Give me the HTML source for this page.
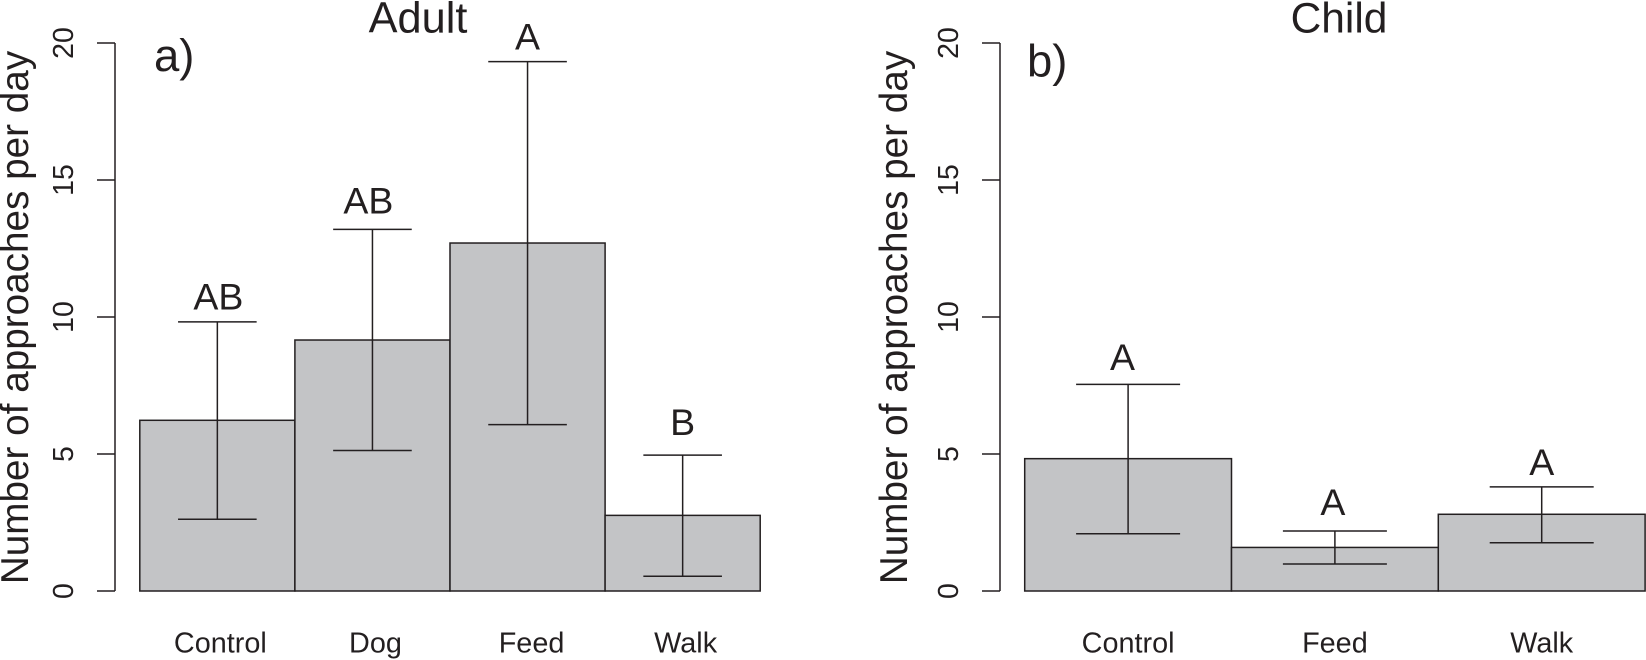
<!DOCTYPE html>
<html>
<head>
<meta charset="utf-8">
<title>Number of approaches per day: Adult and Child</title>
<style>
  html, body { margin: 0; padding: 0; background: #fff; width: 1646px; height: 660px; overflow: hidden; }
  svg { display: block; }
  text { font-family: "Liberation Sans", Arial, sans-serif; fill: #231f20; }
</style>
</head>
<body>
<svg id="chart" xmlns="http://www.w3.org/2000/svg" width="1646" height="660" viewBox="0 0 1646 660">
  <text x="418" y="32.3" font-size="43.3" text-anchor="middle">Adult</text>
  <text x="1339" y="32.3" font-size="42.5" text-anchor="middle">Child</text>
  <text x="154" y="71" font-size="45.5">a)</text>
  <text x="1027" y="76.5" font-size="45.5">b)</text>
</svg>
<script>
const yTicks = [0, 5, 10, 15, 20];

const adultCategories = ["Control", "Dog", "Feed", "Walk"];
const adultMeans = [6.23, 9.16, 12.7, 2.76];
const adultUpper = [9.82, 13.2, 19.32, 4.96];
const adultLower = [2.62, 5.13, 6.07, 0.54];
const adultLetters = ["AB", "AB", "A", "B"];
const adultLetterHeights = [10.28, 13.77, 19.77, 5.69];

const childCategories = ["Control", "Feed", "Walk"];
const childMeans = [4.83, 1.59, 2.8];
const childUpper = [7.54, 2.19, 3.8];
const childLower = [2.09, 0.985, 1.76];
const childLetters = ["A", "A", "A"];
const childLetterHeights = [8.07, 2.77, 4.24];

/* Layout only: no data values in here */
const INK = "#231f20";
const FILL = "#c3c4c6";
const Y_BASE = 591;
const Y_UNIT = 27.4;
const yScale = function (v) { return Y_BASE - v * Y_UNIT; };

const svg = document.getElementById("chart");
const NS = "http://www.w3.org/2000/svg";

function mk(tag, attrs, parent) {
  const el = document.createElementNS(NS, tag);
  Object.keys(attrs).forEach(function (k) { el.setAttribute(k, attrs[k]); });
  (parent || svg).appendChild(el);
  return el;
}

function line(x1, y1, x2, y2, parent) {
  return mk("line", { x1: x1, y1: y1, x2: x2, y2: y2, stroke: INK, "stroke-width": 1.5 }, parent);
}

function drawPanel(p) {
  const g = mk("g", {});
  
  

  const xLeft = function (i) { return p.barStart + i * p.barWidth; };
  const xMid = function (i) { return xLeft(i) + p.barWidth / 2; };

  /* y axis */
  const axis = line(p.axisX, yScale(yTicks[0]), p.axisX, yScale(yTicks[yTicks.length - 1]), g);
  
  

  yTicks.forEach(function (t) {
    const tick = line(p.axisX - 18, yScale(t), p.axisX, yScale(t), g);
    
    

    const lx = p.axisX - 42;
    const label = mk("text", {
      x: lx, y: yScale(t), "font-size": 28.5, "text-anchor": "middle",
      transform: "rotate(-90 " + lx + " " + yScale(t) + ")"
    }, g);
    label.textContent = String(t);
    
    
  });

  /* y axis title */
  const tx = p.axisX - p.titleGap;
  const title = mk("text", {
    x: tx, y: 317.5, "font-size": 38.7, "text-anchor": "middle",
    transform: "rotate(-90 " + tx + " 317.5)"
  }, g);
  title.textContent = "Number of approaches per day";
  
  

  /* bars */
  p.means.forEach(function (m, i) {
    const bar = mk("rect", {
      x: xLeft(i), y: yScale(m), width: p.barWidth, height: yScale(0) - yScale(m),
      fill: FILL, stroke: INK, "stroke-width": 1.5
    }, g);
    
    
  });

  /* error bars, category labels, significance letters */
  p.means.forEach(function (m, i) {
    const cat = p.categories[i].toLowerCase();
    const cx = xMid(i);

    const stem = line(cx, yScale(p.upper[i]), cx, yScale(p.lower[i]), g);
    
    

    const capTop = line(cx - p.capHalf, yScale(p.upper[i]), cx + p.capHalf, yScale(p.upper[i]), g);
    
    

    const capBottom = line(cx - p.capHalf, yScale(p.lower[i]), cx + p.capHalf, yScale(p.lower[i]), g);
    
    

    const xl = mk("text", {
      x: cx + p.labelNudge[i], y: 652.7, "font-size": 28.8, "text-anchor": "middle"
    }, g);
    xl.textContent = p.categories[i];
    
    

    const letter = mk("text", {
      x: cx + p.letterNudge[i], y: yScale(p.letterHeights[i]), "font-size": 37.5, "text-anchor": "middle"
    }, g);
    letter.textContent = p.letters[i];
    
    
  });
}

drawPanel({
  key: "adult", axisX: 115, titleGap: 87, barStart: 139.8, barWidth: 155.1, capHalf: 39.3,
  labelNudge: [3, 3, 4, 3], letterNudge: [1, -4, 0, 0],
  categories: adultCategories, means: adultMeans, upper: adultUpper, lower: adultLower,
  letters: adultLetters, letterHeights: adultLetterHeights
});

drawPanel({
  key: "child", axisX: 1000, titleGap: 93, barStart: 1024.7, barWidth: 206.8, capHalf: 52,
  labelNudge: [0, 0, 0], letterNudge: [-5.6, -2, 0],
  categories: childCategories, means: childMeans, upper: childUpper, lower: childLower,
  letters: childLetters, letterHeights: childLetterHeights
});
</script>
</body>
</html>
